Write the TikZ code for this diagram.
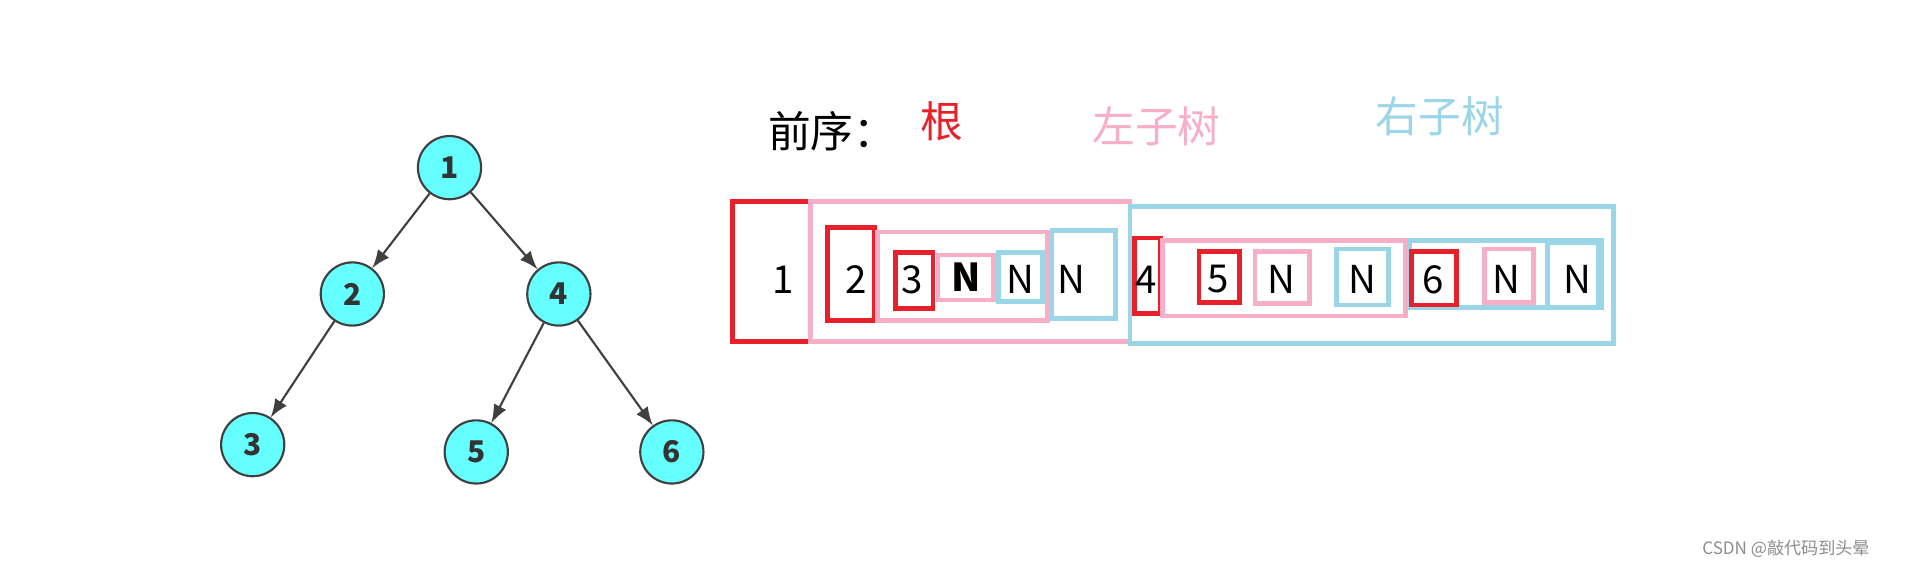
\documentclass[tikz,border=0pt]{standalone}
\usepackage{fontspec}
\setmainfont{Noto Sans CJK SC}
\definecolor{rd}{HTML}{E8202A}
\definecolor{pk}{HTML}{F9AEC8}
\definecolor{bl}{HTML}{9AD6E8}
\definecolor{cy}{HTML}{66FFFF}
\begin{document}
\begin{tikzpicture}[x=0.01cm,y=-0.01cm,
 tn/.style={circle,draw=black!75,line width=0.5pt,fill=cy,minimum size=0.52cm,inner sep=0pt,font=\bfseries\fontsize{7}{8}\selectfont,text=black!80},
 ed/.style={-latex,draw=black!75,line width=0.5pt},
 bx/.style={draw=#1,line width=1.1pt,inner sep=0pt},
 lb/.style={font=\fontsize{9}{10}\selectfont,inner sep=0pt}]
\useasboundingbox (0,0) rectangle (1568,468);
\node[tn] (n1) at (370,138) {1};
\node[tn] (n2) at (290,242) {2};
\node[tn] (n4) at (460,242) {4};
\node[tn] (n3) at (208,366) {3};
\node[tn] (n5) at (392,372) {5};
\node[tn] (n6) at (553,372) {6};
\draw[ed] (n1) -- (n2); \draw[ed] (n1) -- (n4); \draw[ed] (n2) -- (n3);
\draw[ed] (n4) -- (n5); \draw[ed] (n4) -- (n6);
\node[font=\fontsize{10}{12}\selectfont] (t0) at (685,108) {前序：};
\node[font=\fontsize{10}{12}\selectfont,text=rd] (t1) at (775,100) {根};
\node[font=\fontsize{10}{12}\selectfont,text=pk] (t2) at (952,104) {左子树};
\node[font=\fontsize{10}{12}\selectfont,text=bl] (t3) at (1185,96) {右子树};
\newcommand{\bxr}[6]{\node[bx=#1,minimum width={(#4-#2)*0.01cm},minimum height={(#5-#3)*0.01cm}] (#6) at ({(#2+#4)/2},{(#3+#5)/2}) {};}
\bxr{rd}{603}{166}{667}{281}{b1}
\bxr{pk}{667}{166}{930}{281}{b2}
\bxr{bl}{930}{170}{1328}{283}{b3}
\bxr{rd}{681}{187}{720}{264}{b4}
\bxr{pk}{722}{191}{862}{264}{b5}
\bxr{rd}{737}{208}{768}{254}{b6}
\bxr{pk}{772}{210}{818}{247}{b7}
\bxr{bl}{822}{208}{858}{248}{b8}
\bxr{bl}{866}{190}{918}{262}{b9}
\bxr{rd}{934}{196}{955}{258}{b10}
\bxr{pk}{957}{198}{1157}{260}{b11}
\bxr{rd}{987}{207}{1020}{249}{b12}
\bxr{pk}{1033}{207}{1078}{250}{b13}
\bxr{bl}{1100}{205}{1143}{251}{b14}
\bxr{bl}{1160}{198}{1318}{253}{b15}
\bxr{rd}{1162}{207}{1199}{251}{b16}
\bxr{pk}{1222}{205}{1262}{249}{b17}
\bxr{bl}{1274}{200}{1316}{253}{b18}
\node[lb] (l1) at (645,230) {1};
\node[lb] (l2) at (705,230) {2};
\node[lb] (l3) at (751,230) {3};
\node[lb,font=\bfseries\fontsize{9}{10}\selectfont] (l4) at (795,228) {N};
\node[lb] (l5) at (840,230) {N};
\node[lb] (l6) at (882,230) {N};
\node[lb] (l7) at (943,230) {4};
\node[lb] (l8) at (1003,230) {5};
\node[lb] (l9) at (1055,230) {N};
\node[lb] (l10) at (1121,230) {N};
\node[lb] (l11) at (1180,230) {6};
\node[lb] (l12) at (1240,230) {N};
\node[lb] (l13) at (1298,230) {N};
\node[font=\fontsize{4}{5}\selectfont,text=black!45] (wm) at (1470,452) {CSDN @敲代码到头晕};
\end{tikzpicture}
\end{document}
